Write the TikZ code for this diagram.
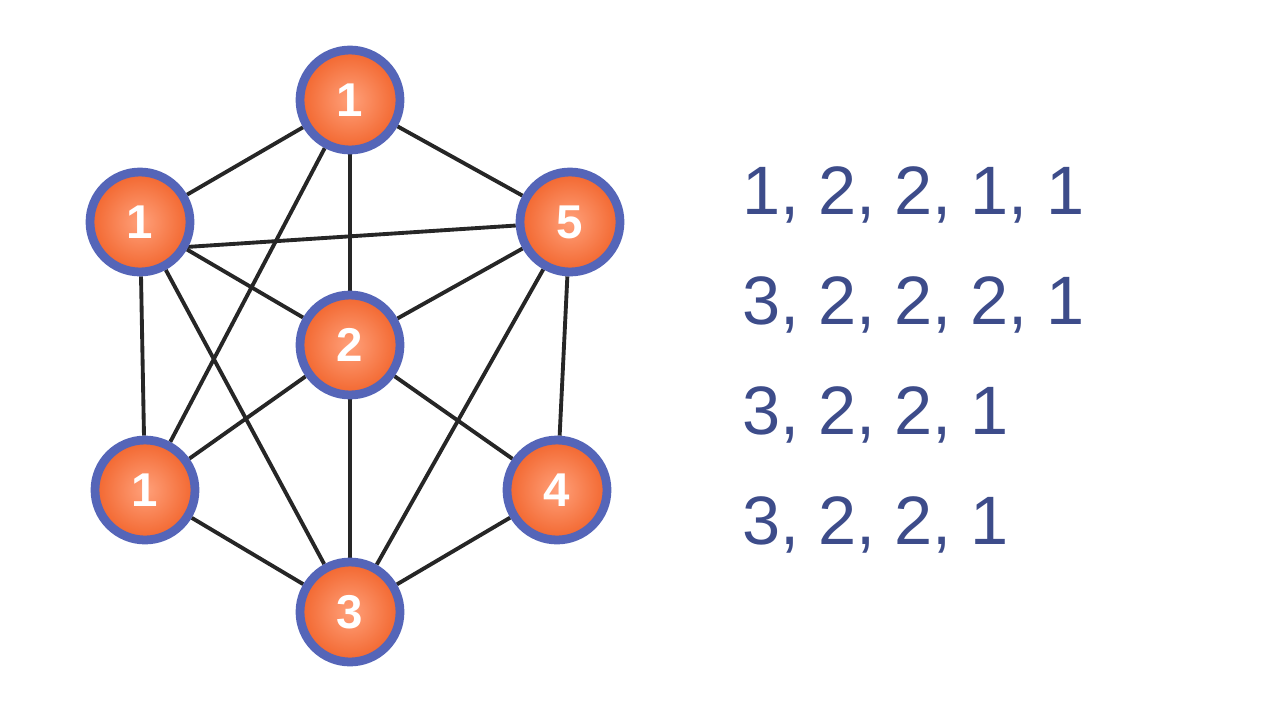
\documentclass[tikz,border=0pt]{standalone}
\usepackage{fontspec}
\setmainfont{Liberation Sans}
\usetikzlibrary{backgrounds}
\definecolor{ring}{HTML}{5565B8}
\definecolor{orin}{HTML}{FFA07A}
\definecolor{orout}{HTML}{F2662E}
\definecolor{txt}{HTML}{3D4C8A}
\begin{document}
\begin{tikzpicture}[x=0.02cm,y=-0.02cm,
  v/.style={circle,minimum size=2.0cm,inner sep=0pt,draw=ring,line width=5pt,
    inner color=orin,outer color=orout,text=white,font=\bfseries\fontsize{27}{30}\selectfont},
  e/.style={line width=2.2pt,black!85},
  t/.style={anchor=west,text=txt,font=\fontsize{39}{44}\selectfont}]
\useasboundingbox (0,0) rectangle (1280,720);
\node[v] (T) at (350,100) {1};
\node[v] (LU) at (140,222) {1};
\node[v] (RU) at (570,222) {5};
\node[v] (C) at (350,345) {2};
\node[v] (LL) at (145,490) {1};
\node[v] (RL) at (557,490) {4};
\node[v] (B) at (350,612) {3};
\begin{scope}[on background layer]
\foreach \a/\b in {T/LU,T/RU,T/C,T/LL,LU/C,LU/LL,LU/B,RU/C,RU/B,RU/RL,C/LL,C/B,C/RL,LL/B,RL/B}
  \draw[e] (\a) -- (\b);
\coordinate (lu2) at (140,250);
\draw[e] (lu2) -- (RU);
\end{scope}
\node[t] (r1) at (736,195) {1, 2, 2, 1, 1};
\node[t] (r2) at (736,305) {3, 2, 2, 2, 1};
\node[t] (r3) at (736,415) {3, 2, 2, 1};
\node[t] (r4) at (736,525) {3, 2, 2, 1};
\end{tikzpicture}
\end{document}
